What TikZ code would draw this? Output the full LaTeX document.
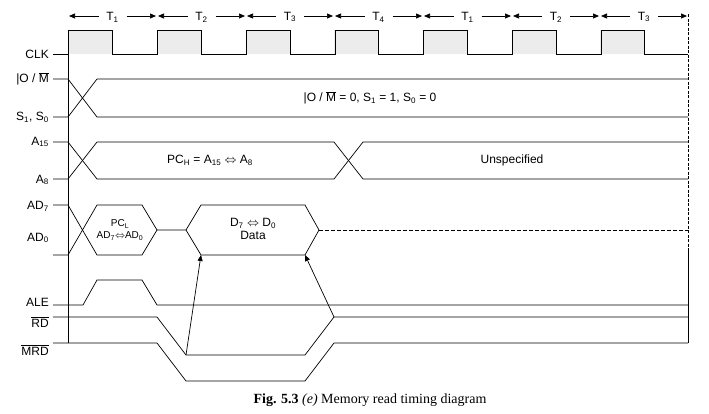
\documentclass[tikz,border=0pt]{standalone}
\usepackage{fontspec}
\setmainfont{Liberation Serif}
\newfontfamily\sansf{Liberation Sans}
\usetikzlibrary{arrows.meta}
\newcommand{\sbx}[1]{\textsubscript{#1}}
\newcommand{\ovl}[1]{$\overline{\mbox{#1}}$}
\begin{document}
\begin{tikzpicture}[x=1pt,y=-1pt,
  sig/.style={line width=0.7pt},
  lbl/.style={font=\sansf\fontsize{12}{13}\selectfont,anchor=east,inner sep=1pt},
  txt/.style={font=\sansf\fontsize{12}{13}\selectfont,inner sep=1pt},
  tarr/.style={-{Triangle[length=6pt,width=5pt]},line width=0.7pt}]
\useasboundingbox (0,0) rectangle (709,413);
% T arrows
\foreach \a/\b/\t in {68/157/1,157/246/2,246/334/3,334/423/4,423/512/1,512/600/2,600/688/3}{
  \pgfmathsetmacro\m{(\a+\b)/2}
  \node[txt] (T\a) at (\m,17) {T\sbx{\t}};
  \draw[tarr] (\m-14,16) -- (\a+1,16);
  \draw[tarr] (\m+14,16) -- (\b-1,16);
}
% CLK
\foreach \r in {68,157,246,334,423,512,600}{
  \fill[gray!15] (\r,30) rectangle (\r+44,54);
}
\draw[sig] (53,54) -- (68,54) -- (68,30)
  \foreach \r in {68,157,246,334,423,512}{ -- (\r+44,30) -- (\r+44,54) -- (\r+89,54) -- (\r+89,30)}
  -- (644,30) -- (644,54) -- (688,54);
\draw[sig] (68,30) -- (68,343);
\draw[sig,dash pattern=on 3pt off 1.5pt] (688,14) -- (688,250);
\draw[sig] (688,250) -- (688,343);
% labels
\node[lbl] (lclk) at (50,54) {CLK};
\node[lbl] (lio) at (50,79) {|O / \ovl{M}};
\node[lbl] (ls) at (50,117) {S\sbx{1}, S\sbx{0}};
\node[lbl] (la15) at (50,142) {A\sbx{15}};
\node[lbl] (la8) at (50,180) {A\sbx{8}};
\node[lbl] (lad7) at (50,206) {AD\sbx{7}};
\node[lbl] (lad0) at (50,238) {AD\sbx{0}};
\node[lbl] (lale) at (50,302) {ALE};
\node[lbl] (lrd) at (50,322) {\ovl{RD}};
\node[lbl] (lmrd) at (50,350) {\ovl{MRD}};
% IO/M
\draw[sig] (53,79) -- (68,79) -- (97,117) -- (688,117);
\draw[sig] (53,117) -- (68,117) -- (97,79) -- (688,79);
\node[txt] (tio) at (370,98) {|O / \ovl{M} = 0, S\sbx{1} = 1, S\sbx{0} = 0};
% A15-A8
\draw[sig] (53,142) -- (68,142) -- (97,179) -- (334,179) -- (363,142) -- (688,142);
\draw[sig] (53,179) -- (68,179) -- (97,142) -- (334,142) -- (363,179) -- (688,179);
\node[txt] (tpch) at (210,160) {PC\sbx{H} = A\sbx{15} $\Leftrightarrow$ A\sbx{8}};
\node[txt] (tuns) at (512,160) {Unspecified};
% AD bus
\draw[sig] (53,205) -- (68,205) -- (97,255) -- (142,255) -- (157,230) -- (186,230) -- (201,255) -- (305,255) -- (319,230);
\draw[sig] (53,255) -- (68,255) -- (97,205) -- (142,205) -- (157,230);
\draw[sig] (186,230) -- (201,205) -- (305,205) -- (319,230);
\draw[sig,dash pattern=on 4pt off 2pt] (319,230) -- (688,230);
\node[txt,font=\sansf\fontsize{10}{11}\selectfont,align=center] (tpcl) at (120,230) {PC\sbx{L}\\[1pt]AD\sbx{7}$\Leftrightarrow$AD\sbx{0}};
\node[txt,align=center] (tdata) at (253,229) {D\sbx{7} $\Leftrightarrow$ D\sbx{0}\\Data};
% ALE
\draw[sig] (53,305) -- (83,305) -- (97,280) -- (142,280) -- (157,305) -- (688,305);
% RD
\draw[sig] (53,317) -- (157,317) -- (186,355) coordinate (rdlow) -- (305,355) -- (334,317) coordinate (rdhigh) -- (688,317);
% MRD
\draw[sig] (53,343) -- (157,343) -- (186,381) -- (305,381) -- (334,343) -- (688,343);
% arrows
\coordinate (d1) at (201,255);
\coordinate (d2) at (305,255);
\draw[tarr] (rdlow) -- (d1);
\draw[tarr] (rdhigh) -- (d2);
% caption
\node (cap) at (370,400) {\fontsize{14}{16}\selectfont\textbf{Fig. 5.3} \textit{(e)} Memory read timing diagram};
\end{tikzpicture}
\end{document}
